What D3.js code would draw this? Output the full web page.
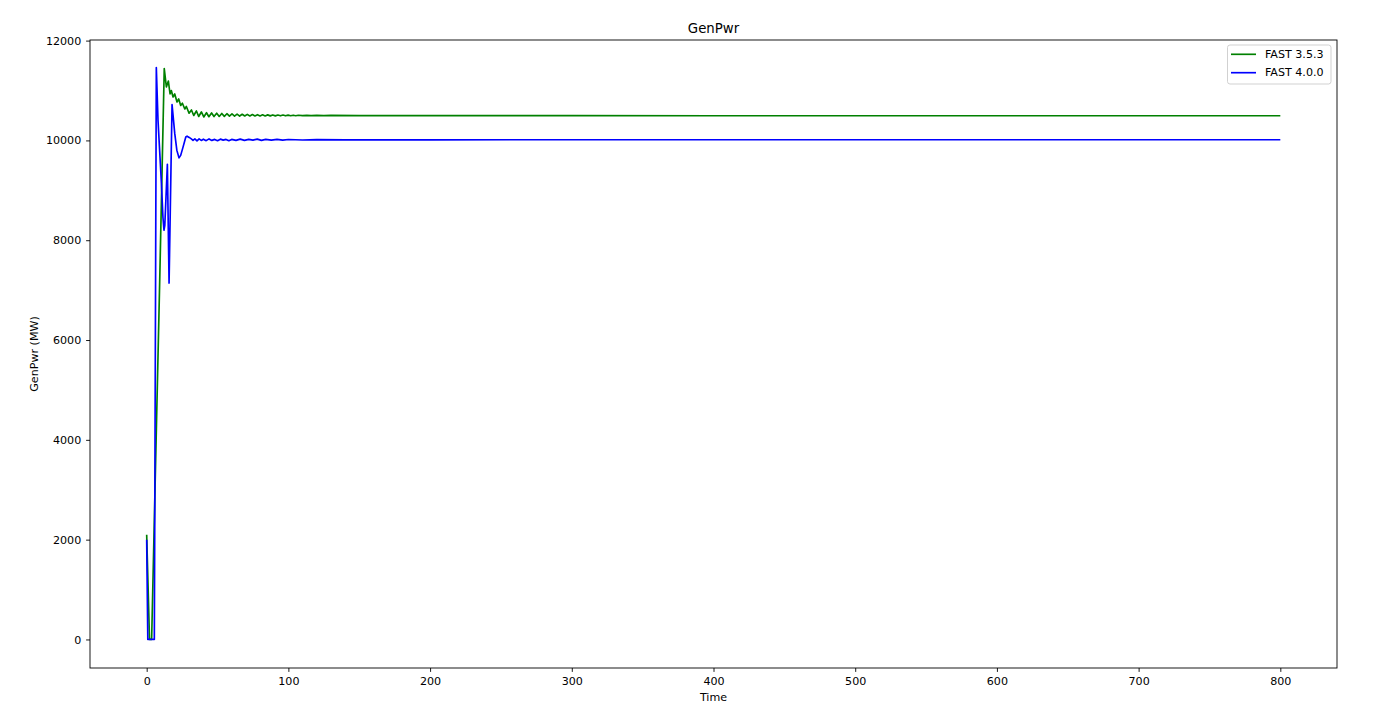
<!DOCTYPE html>
<html>
<head>
<meta charset="utf-8">
<script src="https://cdn.jsdelivr.net/npm/d3@7"></script>
<style>
  body { margin: 0; background: #fff; }
  text { font-family: 'DejaVu Sans', sans-serif; fill: #000; }
</style>
</head>
<body>
<svg id="chart" width="1380" height="706"></svg>
<script>
// FAST 3.5.3 (green)
var fast353Time = [0, 2.0, 3.5, 9.2, 12.4, 13.9, 15.3, 16.5, 17.4, 18.6, 19.8, 21.4, 22.6, 24.0, 25.2,
    26.9, 28.0, 29.9, 31.6, 33.2, 35.1, 36.7, 38.6, 40.3, 42.2, 43.9, 45.8, 47.5, 49.4, 51.2,
    53.0, 54.8, 56.6, 58.4, 60.2, 62.0, 63.8, 65.6, 67.4, 69.2, 71.0, 72.8, 74.6, 76.4, 78.2,
    80.0, 81.8, 83.6, 85.4, 87.2, 89.0, 90.8, 92.6, 94.4, 96.2, 98.0, 99.8, 101.6, 103.4, 105.2,
    107.0, 110, 113, 116, 120, 125, 130, 150, 200, 300, 400, 500, 600, 700, 800];
var fast353Power = [2100, 0, 0, 7200, 11440, 11070, 11190, 10930, 11000, 10870, 10930, 10770, 10830, 10700, 10745,
    10630, 10680, 10545, 10610, 10500, 10590, 10480, 10570, 10470, 10555, 10475, 10550, 10478, 10545, 10480,
    10540, 10482, 10535, 10485, 10530, 10487, 10527, 10488, 10524, 10489, 10521, 10490, 10518, 10490, 10516,
    10491, 10514, 10491, 10512, 10492, 10510, 10492, 10509, 10493, 10508, 10493, 10506, 10494, 10505, 10494,
    10504, 10495, 10503, 10495, 10502, 10496, 10500, 10497, 10496, 10495, 10494, 10494, 10494, 10494, 10494];

// FAST 4.0.0 (blue)
var fast400Time = [0, 0.8, 5.4, 6.8, 8.0, 10.4, 11.5, 12.2, 12.8, 14.6, 15.8, 17.9, 19.8, 21.3, 22.8,
    24.0, 25.7, 27.6, 28.5, 30.0, 31.5, 32.7, 34.0, 35.5, 37.0, 38.5, 40.0, 42, 44, 46,
    48, 50, 52, 54, 56, 58, 60, 63, 66, 69, 72, 75, 78, 81, 84,
    88, 92, 96, 100, 110, 120, 140, 200, 300, 500, 800];
var fast400Power = [2000, 0, 0, 11460, 10400, 9140, 8450, 8200, 8300, 9520, 7140, 10720, 10140, 9800, 9650,
    9700, 9870, 10070, 10085, 10060, 10030, 10000, 10030, 9990, 10030, 10000, 10025, 9995, 10030, 10000,
    10020, 9995, 10025, 10005, 10020, 9995, 10020, 10000, 10025, 10000, 10020, 10005, 10025, 10000, 10020,
    10005, 10020, 10005, 10018, 10008, 10016, 10010, 10012, 10013, 10013, 10013];

var xTicks = [0, 100, 200, 300, 400, 500, 600, 700, 800];
var yTicks = [0, 2000, 4000, 6000, 8000, 10000, 12000];

var seriesNames = ['FAST 3.5.3', 'FAST 4.0.0'];
var seriesColors = ['green', 'blue'];

const plotLeft = 90, plotRight = 1337, plotTop = 40, plotBottom = 668;

var svg = d3.select('#chart');

var x = d3.scaleLinear().domain([-40, 840]).range([plotLeft, plotRight]);
var y = d3.scaleLinear().domain([-572, 12012]).range([plotBottom, plotTop]);

// x axis
var xAxis = svg.append('g')
    .attr('transform', 'translate(0,' + plotBottom + ')')
    .call(d3.axisBottom(x).tickValues(xTicks).tickSize(3.9).tickPadding(4.9).tickSizeOuter(0));
xAxis.select('.domain').remove();
xAxis.selectAll('line').attr('stroke', '#000').attr('stroke-width', 0.9);
xAxis.selectAll('text')
    .attr('font-family', 'DejaVu Sans')
    .attr('font-size', '11.1px')
    .attr('fill', '#000');

// y axis
var yAxis = svg.append('g')
    .attr('transform', 'translate(' + plotLeft + ',0)')
    .call(d3.axisLeft(y).tickValues(yTicks).tickFormat(d3.format('d')).tickSize(3.9).tickPadding(4.9).tickSizeOuter(0));
yAxis.select('.domain').remove();
yAxis.selectAll('line').attr('stroke', '#000').attr('stroke-width', 0.9);
yAxis.selectAll('text')
    .attr('font-family', 'DejaVu Sans')
    .attr('font-size', '11.1px')
    .attr('fill', '#000');

// lines
svg.append('clipPath').attr('id', 'clip')
    .append('rect')
    .attr('x', plotLeft).attr('y', plotTop)
    .attr('width', plotRight - plotLeft).attr('height', plotBottom - plotTop);

var line = d3.line()
    .x(d => x(d[0]))
    .y(d => y(d[1]));

var series = [
    d3.zip(fast353Time, fast353Power),
    d3.zip(fast400Time, fast400Power)
];

for (let i = 0; i < series.length; i++) {
    svg.append('path')
        .datum(series[i])
        .attr('clip-path', 'url(#clip)')
        .attr('fill', 'none')
        .attr('stroke', seriesColors[i])
        .attr('stroke-width', 1.67)
        .attr('stroke-linejoin', 'round')
        .attr('d', line);
}

// frame
svg.append('rect')
    .attr('x', plotLeft)
    .attr('y', plotTop)
    .attr('width', plotRight - plotLeft)
    .attr('height', plotBottom - plotTop)
    .attr('fill', 'none')
    .attr('stroke', '#000')
    .attr('stroke-width', 0.9);

// title and labels
svg.append('text')
    .attr('x', (plotLeft + plotRight) / 2)
    .attr('y', 33)
    .attr('text-anchor', 'middle')
    .attr('font-size', '13.3px')
    .text('GenPwr');

svg.append('text')
    .attr('x', (plotLeft + plotRight) / 2)
    .attr('y', 701)
    .attr('text-anchor', 'middle')
    .attr('font-size', '11.1px')
    .text('Time');

svg.append('text')
    .attr('transform', 'translate(38,' + ((plotTop + plotBottom) / 2) + ') rotate(-90)')
    .attr('text-anchor', 'middle')
    .attr('font-size', '11.1px')
    .text('GenPwr (MW)');

// legend
var legend = svg.append('g');
legend.append('rect')
    .attr('x', 1227.5)
    .attr('y', 45)
    .attr('width', 103.5)
    .attr('height', 39)
    .attr('rx', 2.5)
    .attr('fill', 'rgba(255,255,255,0.8)')
    .attr('stroke', '#cccccc')
    .attr('stroke-width', 0.9);

for (let i = 0; i < seriesNames.length; i++) {
    legend.append('line')
        .attr('x1', 1231)
        .attr('x2', 1256)
        .attr('y1', 54.3 + i * 18.4)
        .attr('y2', 54.3 + i * 18.4)
        .attr('stroke', seriesColors[i])
        .attr('stroke-width', 1.67);

    legend.append('text')
        .attr('x', 1265)
        .attr('y', 54.3 + i * 18.4)
        .attr('dominant-baseline', 'central')
        .attr('font-size', '11.1px')
        .text(seriesNames[i]);
}
</script>
</body>
</html>
